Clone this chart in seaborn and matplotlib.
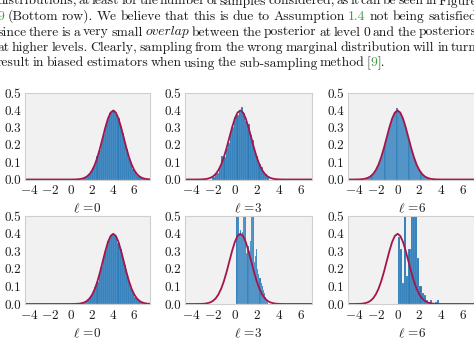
import numpy as np
import pandas as pd
import matplotlib
matplotlib.use("Agg")
import matplotlib.pyplot as plt
from matplotlib.font_manager import FontProperties
import seaborn as sns

# ---------------- data ----------------
# standard-normal-shaped density profile (offsets from each panel's mean)
curve_offsets = [-9.0, -4.0, -3.75, -3.5, -3.25, -3.0, -2.75, -2.5, -2.25, -2.0, -1.75, -1.5,
                 -1.25, -1.0, -0.75, -0.5, -0.25, 0.0, 0.25, 0.5, 0.75, 1.0, 1.25, 1.5, 1.75,
                 2.0, 2.25, 2.5, 2.75, 3.0, 3.25, 3.5, 3.75, 4.0, 9.0]
curve_density = [0.0, 0.0001, 0.0004, 0.0009, 0.0020, 0.0044, 0.0091, 0.0175, 0.0317, 0.0540,
                 0.0863, 0.1295, 0.1826, 0.2420, 0.3011, 0.3521, 0.3867, 0.3989, 0.3867, 0.3521,
                 0.3011, 0.2420, 0.1826, 0.1295, 0.0863, 0.0540, 0.0317, 0.0175, 0.0091, 0.0044,
                 0.0020, 0.0009, 0.0004, 0.0001, 0.0]
curve_means = [4.0, 0.45, 0.0]          # per column

# histogram bins (edges) and heights per panel
edges_tl = [1.0 + 0.2 * i for i in range(31)]
heights_tl = [0.005, 0.011, 0.016, 0.030, 0.042, 0.068, 0.091, 0.133, 0.168, 0.222, 0.262, 0.316,
              0.349, 0.385, 0.394, 0.401, 0.378, 0.355, 0.309, 0.268, 0.214, 0.175, 0.127, 0.096,
              0.063, 0.046, 0.027, 0.018, 0.010, 0.006]

edges_tm = [-2.1 + 0.2 * i for i in range(27)]
heights_tm = [0.015, 0.031, 0.040, 0.072, 0.135, 0.128, 0.180, 0.210, 0.275, 0.305, 0.360, 0.372,
              0.392, 0.420, 0.385, 0.340, 0.318, 0.255, 0.228, 0.165, 0.138, 0.088, 0.070, 0.038,
              0.030, 0.012]

edges_tr = [-3.0 + 0.1 * i for i in range(61)]
heights_tr = [0.005, 0.007, 0.009, 0.012, 0.016, 0.019, 0.026, 0.031, 0.040, 0.048, 0.060, 0.072,
              0.087, 0.101, 0.121, 0.140, 0.159, 0.183, 0.207, 0.229, 0.255, 0.277, 0.302, 0.322,
              0.344, 0.359, 0.377, 0.386, 0.396, 0.412,
              0.399, 0.393, 0.388, 0.374, 0.361, 0.342, 0.324, 0.300, 0.279, 0.253, 0.231, 0.205,
              0.183, 0.159, 0.140, 0.119, 0.103, 0.086, 0.073, 0.059, 0.049, 0.039, 0.032, 0.025,
              0.020, 0.015, 0.012, 0.009, 0.007, 0.005]

edges_bl = [1.0 + 0.2 * i for i in range(31)]
heights_bl = [0.006, 0.010, 0.018, 0.027, 0.045, 0.064, 0.096, 0.127, 0.174, 0.215, 0.270, 0.309,
              0.356, 0.378, 0.399, 0.393, 0.384, 0.348, 0.315, 0.262, 0.221, 0.168, 0.132, 0.091,
              0.067, 0.042, 0.029, 0.016, 0.011, 0.005]

edges_bm = [0.1 + 0.1 * i for i in range(30)]
heights_bm = [0.62, 0.58, 0.40, 0.42, 0.39, 0.41, 0.63, 0.66, 0.60, 0.29, 0.33, 0.30, 0.36, 0.61,
              0.64, 0.58, 0.24, 0.27, 0.31, 0.20, 0.17, 0.15, 0.12, 0.10, 0.08, 0.06, 0.04, 0.02,
              0.01]

edges_br = [0.0 + 0.2 * i for i in range(20)]
heights_br = [0.38, 0.31, 0.12, 0.60, 0.16, 0.31, 0.60, 0.60, 0.60, 0.26, 0.10, 0.06, 0.05, 0.02,
              0.01, 0.02, 0.0, 0.01, 0.02]

panel_labels = [r"$\ell$ =0", r"$\ell$ =3", r"$\ell$ =6"]
x_ticks = [-4, -2, 0, 2, 4, 6]
y_ticks = [0.0, 0.1, 0.2, 0.3, 0.4, 0.5]

paragraph = [
    [[("distributions,", "k", "r")], [("at", "k", "r")], [("least", "k", "r")], [("for", "k", "r")],
     [("the", "k", "r")], [("number", "k", "r")], [("of", "k", "r")], [("samples", "k", "r")],
     [("considered,", "k", "r")], [("as", "k", "r")], [("it", "k", "r")], [("can", "k", "r")],
     [("be", "k", "r")], [("seen", "k", "r")], [("in", "k", "r")], [("Figure", "k", "r")]],
    [[("9", "g", "r")], [("(Bottom", "k", "r")], [("row).", "k", "r")], [("We", "k", "r")],
     [("believe", "k", "r")], [("that", "k", "r")], [("this", "k", "r")], [("is", "k", "r")],
     [("due", "k", "r")], [("to", "k", "r")], [("Assumption", "k", "r")], [("1.4", "g", "r")],
     [("not", "k", "r")], [("being", "k", "r")], [("satisfied", "k", "r")]],
    [[("since", "k", "r")], [("there", "k", "r")], [("is", "k", "r")], [("a", "k", "r")],
     [("very", "k", "r")], [("small", "k", "r")], [("overlap", "k", "i")], [("between", "k", "r")],
     [("the", "k", "r")], [("posterior", "k", "r")], [("at", "k", "r")], [("level", "k", "r")],
     [("0", "k", "r")], [("and", "k", "r")], [("the", "k", "r")], [("posteriors", "k", "r")]],
    [[("at", "k", "r")], [("higher", "k", "r")], [("levels.", "k", "r")], [("Clearly,", "k", "r")],
     [("sampling", "k", "r")], [("from", "k", "r")], [("the", "k", "r")], [("wrong", "k", "r")],
     [("marginal", "k", "r")], [("distribution", "k", "r")], [("will", "k", "r")], [("in", "k", "r")],
     [("turn", "k", "r")]],
    [[("result", "k", "r")], [("in", "k", "r")], [("biased", "k", "r")], [("estimators", "k", "r")],
     [("when", "k", "r")], [("using", "k", "r")], [("the", "k", "r")], [("sub-sampling", "k", "r")],
     [("method", "k", "r")], [("[", "k", "r"), ("9", "g", "r"), ("].", "k", "r")]],
]
line_baselines = [4.5, 20.0, 35.5, 51.0, 66.5]
line_right_px = [477.0, 477.0, 477.0, 477.0, 385.0]

# ---------------- style ----------------
sns.set_theme(style="white")
plt.rcParams["font.family"] = ["cmr10"]
plt.rcParams["mathtext.fontset"] = "cm"
plt.rcParams["axes.formatter.use_mathtext"] = True
plt.rcParams["axes.unicode_minus"] = True

W, H = 474, 341
fig = plt.figure(figsize=(W / 100, H / 100), dpi=100)
fig.patch.set_facecolor("white")

BAR = "#2a7ab9"
CURVE = "#a3154b"
GREEN = "#3f9c3f"
TXT = "#1c1c1c"
AXBG = "#f1f1f1"
SPINE = "#cfcfcf"

# axes rectangles in pixels: (left, top, right, bottom)
rects = [
    [(25, 93, 150, 179.5), (185, 93, 312, 179.5), (348, 93, 476, 179.5)],
    [(25, 216, 150, 304), (185, 216, 312, 304), (348, 216, 476, 304)],
]
xlims = [(-4.4, 7.5), (-4.6, 7.0), (-4.55, 7.2)]

hist_data = [
    [(edges_tl, heights_tl), (edges_tm, heights_tm), (edges_tr, heights_tr)],
    [(edges_bl, heights_bl), (edges_bm, heights_bm), (edges_br, heights_br)],
]

for r in range(2):
    for c in range(3):
        l, t, rr, b = rects[r][c]
        ax = fig.add_axes([l / W, 1 - b / H, (rr - l) / W, (b - t) / H], zorder=2 - r)
        ax.set_facecolor(AXBG)
        edges, heights = hist_data[r][c]
        centers = [(edges[i] + edges[i + 1]) / 2 for i in range(len(heights))]
        df = pd.DataFrame({"x": centers, "w": heights})
        sns.histplot(data=df, x="x", weights="w", bins=edges, stat="count", ax=ax,
                     color=BAR, edgecolor=(1, 1, 1, 0.35), linewidth=0.3, alpha=1.0)
        cx = [curve_means[c] + o for o in curve_offsets]
        cdf = pd.DataFrame({"x": cx, "y": curve_density})
        sns.lineplot(data=cdf, x="x", y="y", ax=ax, color=CURVE, linewidth=1.3,
                     estimator=None, sort=False)
        ax.set_xlim(*xlims[c])
        ax.set_ylim(0, 0.5)
        ax.set_xticks(x_ticks)
        ax.set_yticks(y_ticks)
        ax.set_yticklabels([f"{v:.1f}" for v in y_ticks])
        ax.set_ylabel("")
        ax.set_xlabel(panel_labels[c], fontsize=9.5, color=TXT, labelpad=3.5)
        for s in ax.spines.values():
            s.set_color(SPINE)
            s.set_linewidth(0.8)
        ax.tick_params(axis="x", direction="in", length=3, width=0.6, color="#b8b8b8",
                       labelsize=9.5, labelcolor=TXT, pad=3.5)
        ax.tick_params(axis="y", length=0, labelsize=9.5, labelcolor=TXT, pad=3)

# ---------------- paragraph (justified) ----------------
renderer = fig.canvas.get_renderer()
fp_r = FontProperties(family="cmr10", size=9.85)
fp_i = FontProperties(family="cmmi10", size=9.85)
colors = {"k": TXT, "g": GREEN}


def width_of(text, fp):
    t = fig.text(0, 0, text, fontproperties=fp)
    w = t.get_window_extent(renderer).width
    t.remove()
    return w


x_left = -3.0
for li, words in enumerate(paragraph):
    wlist = []
    for word in words:
        segs = []
        for txt, col, sty in word:
            fp = fp_i if sty == "i" else fp_r
            segs.append((txt, col, fp, width_of(txt, fp)))
        wlist.append(segs)
    total = sum(sum(s[3] for s in segs) for segs in wlist)
    gap = (line_right_px[li] - x_left - total) / (len(wlist) - 1)
    gap = max(gap, 1.5)
    x = x_left
    yb = 1 - line_baselines[li] / H
    for segs in wlist:
        for txt, col, fp, w in segs:
            fig.text(x / W, yb, txt, fontproperties=fp, color=colors[col], va="baseline", ha="left")
            x += w
        x += gap

fig.savefig("out.png", dpi=100)
